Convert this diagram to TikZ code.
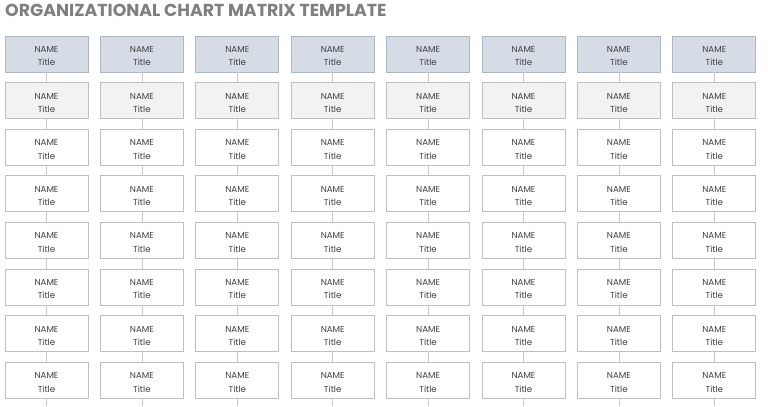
\documentclass[tikz,border=0pt]{standalone}
\usepackage{fontspec}
\setmainfont{Poppins}
\usetikzlibrary{positioning}

\definecolor{headfill}{HTML}{D6DCE5}
\definecolor{headline}{HTML}{AEB6C2}
\definecolor{subfill}{HTML}{F2F2F2}
\definecolor{boxline}{HTML}{BFBFBF}
\definecolor{linkline}{HTML}{C9C9C9}
\definecolor{titlegray}{HTML}{7F7F7F}
\definecolor{textgray}{HTML}{404040}

% box text, strut pushes it a little down
\newcommand{\whoname}{\rule{0pt}{9pt}NAME\\Title}

\tikzset{
  person/.style = {draw = boxline, line width = 0.6pt, fill = white,
    minimum width = 2.49cm, minimum height = 1.08cm, inner sep = 0pt,
    align = center, text = textgray,
    font = \fontsize{7.4}{11.5}\selectfont},
  headperson/.style = {person, fill = headfill, draw = headline},
  subperson/.style = {person, fill = subfill},
  link/.style = {draw = linkline, line width = 0.5pt}
}

\begin{document}
\begin{tikzpicture} [x = 0.03cm, y = -0.03cm]
\useasboundingbox (0, 0) rectangle (768, 406);
\node[anchor = north west, inner sep = 0pt, text = titlegray,
  font = \fontsize{14.8}{16}\selectfont\bfseries] (heading) at (5, 4)
  {ORGANIZATIONAL CHART MATRIX TEMPLATE};
% top row and second row
\foreach \c in {0,...,7} {
  \node[headperson] (p\c-0) at (46.5 + 95.4*\c, 54.0) {\whoname};
  \node[subperson] (p\c-1) at (46.5 + 95.4*\c, 100.6) {\whoname};
}
% plain rows
\foreach \c in {0,...,7} {
  \foreach \r in {2,...,7} {
    \node[person] (p\c-\r) at (46.5 + 95.4*\c, 54.0 + 46.6*\r) {\whoname};
  }
}
% connectors
\foreach \c in {0,...,7} {
  \foreach \r [evaluate = \r as \n using int(\r + 1)] in {0,...,6} {
    \draw[link] (p\c-\r.south) -- (p\c-\n.north);
  }
  \coordinate (end\c) at (46.5 + 95.4*\c, 406);
  \draw[link] (p\c-7.south) -- (end\c);
}
\end{tikzpicture}
\end{document}
